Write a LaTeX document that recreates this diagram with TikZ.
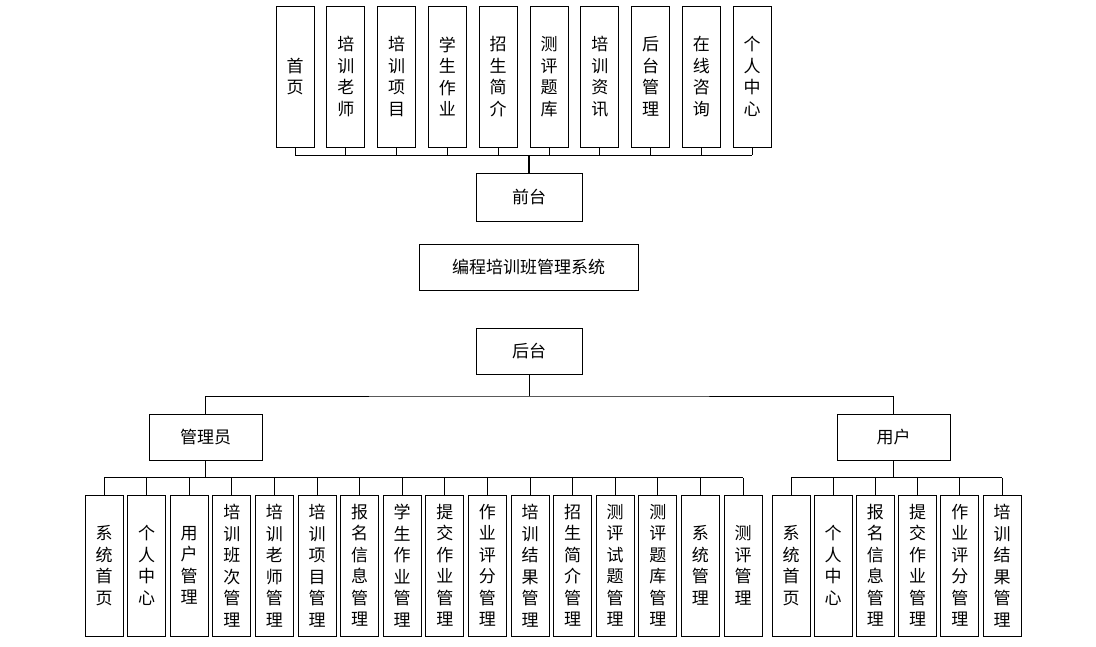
\documentclass[tikz,border=0pt]{standalone}
\usepackage{fontspec}
\setmainfont{Noto Sans CJK SC}
\begin{document}
\begin{tikzpicture}[x=1pt,y=-1pt,
  vbox/.style={draw,line width=0.8pt,minimum width=38pt,align=center,font=\fontsize{17}{21.5}\selectfont,inner sep=0pt},
  hbox/.style={draw,line width=0.8pt,font=\fontsize{17}{20}\selectfont,inner sep=0pt},
  ln/.style={line width=0.8pt}]
\useasboundingbox (0,0) rectangle (1096,646);
% top
\foreach \t [count=\i from 0] in {首\\页,培\\训\\老\\师,培\\训\\项\\目,学\\生\\作\\业,招\\生\\简\\介,测\\评\\题\\库,培\\训\\资\\讯,后\\台\\管\\理,在\\线\\咨\\询,个\\人\\中\\心}{
  \node[vbox,minimum height=141pt] (t\i) at ({295+50.8*\i},76.5) {\t};
  \draw[ln] (t\i.south) -- ++(0,8);
}
\node[hbox,minimum width=106pt,minimum height=48pt] (qt) at (529,197) {前台};
\node[hbox,minimum width=219pt,minimum height=46pt] (sys) at (528.5,267) {编程培训班管理系统};
\node[hbox,minimum width=106pt,minimum height=46pt] (ht) at (529,351) {后台};
\node[hbox,minimum width=113pt,minimum height=46pt] (gly) at (205.5,437) {管理员};
\node[hbox,minimum width=113pt,minimum height=46pt] (yh) at (893.5,437) {用户};
\draw[ln] ([yshift=-8pt]t0.south) -- ([yshift=-8pt]t9.south);
\draw[line width=1.4pt] (qt.north) -- ([yshift=-8pt]qt.north|-t0.south);
\coordinate (hb) at (529,396);
\draw[ln] (ht.south) -- (hb);
\draw[ln] (gly.north) |- (hb) -| (yh.north);
% admin
\foreach \t [count=\i from 0] in {系\\统\\首\\页,个\\人\\中\\心,用\\户\\管\\理,培\\训\\班\\次\\管\\理,培\\训\\老\\师\\管\\理,培\\训\\项\\目\\管\\理,报\\名\\信\\息\\管\\理,学\\生\\作\\业\\管\\理,提\\交\\作\\业\\管\\理,作\\业\\评\\分\\管\\理,培\\训\\结\\果\\管\\理,招\\生\\简\\介\\管\\理,测\\评\\试\\题\\管\\理,测\\评\\题\\库\\管\\理,系\\统\\管\\理,测\\评\\管\\理}{
  \node[vbox,minimum height=141pt] (a\i) at ({104+42.6*\i},565.5) {\t};
  \draw[ln] (a\i.north) -- ++(0,-17);
}
\draw[ln] ([yshift=17pt]a0.north) -- ([yshift=17pt]a15.north);
\draw[line width=1.4pt] (gly.south) -- ++(0,18);
% user
\foreach \t [count=\i from 0] in {系\\统\\首\\页,个\\人\\中\\心,报\\名\\信\\息\\管\\理,提\\交\\作\\业\\管\\理,作\\业\\评\\分\\管\\理,培\\训\\结\\果\\管\\理}{
  \node[vbox,minimum height=141pt] (u\i) at ({791+42.2*\i},565.5) {\t};
  \draw[ln] (u\i.north) -- ++(0,-17);
}
\draw[ln] ([yshift=17pt]u0.north) -- ([yshift=17pt]u5.north);
\draw[ln] (yh.south) -- ++(0,18);
\end{tikzpicture}
\end{document}
